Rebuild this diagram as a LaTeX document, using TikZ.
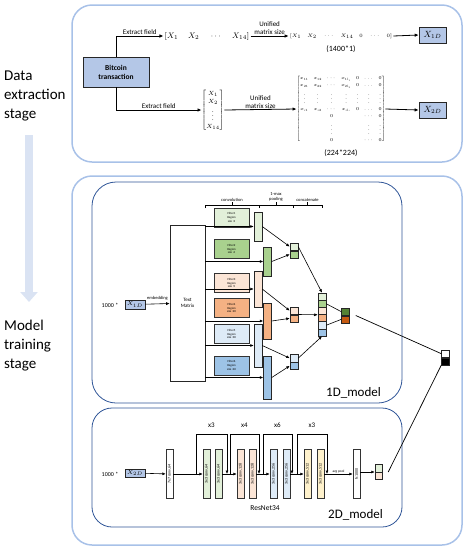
\RequirePackage{fix-cm}
\documentclass[tikz,border=0pt]{standalone}
\usepackage{amsmath}
\usepackage{fontspec}
\setmainfont{Carlito}
\usepackage{tikz}
\usetikzlibrary{
        arrows.meta,
        shapes,
        positioning
    }
\definecolor{stageblue}{RGB}{168,193,232}
\definecolor{modelblue}{RGB}{47,85,151}
\definecolor{boxblue}{RGB}{180,199,231}
\definecolor{arrowblue}{RGB}{218,227,243}
\definecolor{lgreen}{RGB}{226,240,217}
\definecolor{mgreen}{RGB}{169,209,142}
\definecolor{dgreen}{RGB}{84,130,53}
\definecolor{lorange}{RGB}{251,229,214}
\definecolor{morange}{RGB}{244,177,131}
\definecolor{dorange}{RGB}{197,90,17}
\definecolor{lblue}{RGB}{222,235,247}
\definecolor{mblue}{RGB}{157,195,230}
\definecolor{lyellow}{RGB}{255,242,204}

\begin{document}
\begin{tikzpicture}
[x=1pt, y=-1pt,
stagebox/.style={draw=stageblue, line width=1.5pt, rounded corners=20pt},
modelbox/.style={draw=modelblue, line width=0.8pt, rounded corners=24pt},
databox/.style={draw=black!85, fill=boxblue, line width=0.6pt, inner sep=0pt},
filterbox/.style={draw=black!80, line width=0.5pt, minimum width=35pt, minimum height=19pt, inner sep=0pt, align=center, font=\fontsize{3}{3.8}\selectfont},
featbar/.style={draw=black!85, line width=0.5pt, minimum width=8pt, inner sep=0pt},
cellbox/.style={draw=black!85, line width=0.5pt, minimum width=8pt, minimum height=7.2pt, inner sep=0pt},
convbar/.style={draw=black!80, line width=0.4pt, minimum width=7pt, minimum height=49pt, inner sep=0pt, font=\fontsize{4}{4.5}\selectfont},
arrow/.style={line width=0.8pt, -{Latex[length=4pt,width=3.5pt]}},
thinarrow/.style={line width=0.6pt, -{Latex[length=3.5pt,width=3pt]}},
lbl/.style={font=\fontsize{7}{8}\selectfont, inner sep=1pt},
stagetext/.style={anchor=west, align=left, inner sep=0pt, font=\fontsize{15}{19}\selectfont},
]
    \useasboundingbox (0,0) rectangle (468,550);
    % stages
    \draw[stagebox] (72,5) rectangle (462,162);
    \draw[stagebox] (72,176) rectangle (462,545);
    \draw[modelbox] (92,182) rectangle (402,403);
    \draw[modelbox, rounded corners=20pt] (92,408) rectangle (402,527);
    \node[stagetext] (stagedata) at (4,96) {Data\\extraction\\stage};
    \node[stagetext] (stagemodel) at (4,346) {Model\\training\\stage};
    \coordinate (flowtop) at (29,135);
    \coordinate (flowbot) at (29,302);
    \draw[line width=8pt, draw=arrowblue, -{Triangle[length=10pt,width=17pt]}] (flowtop) -- (flowbot);

    % data extraction
    \node[databox, minimum width=66pt, minimum height=30pt, align=center, font=\bfseries\fontsize{7.5}{9}\selectfont] (btc) at (116,72) {Bitcoin\\transaction};
    \node[inner sep=1pt, font=\fontsize{8}{9}\selectfont] (row1) at (207,36) {$[X_1\hspace{10pt}X_2\hspace{10pt}\cdots\hspace{10pt}X_{14}]$};
    \node[inner sep=1pt, font=\fontsize{5}{6}\selectfont] (row1u) at (341,36) {$[X_1\hspace{6pt}X_2\hspace{6pt}\cdots\hspace{6pt}X_{14}\hspace{6pt}0\hspace{6pt}\cdots\hspace{6pt}0]$};
    \node[font=\fontsize{8}{9}\selectfont, below=2pt of row1u] (size1) {(1400*1)};
    \node[databox, minimum width=27pt, minimum height=16pt, font=\fontsize{9}{10}\selectfont] (x1d) at (432.5,35) {$X_{1D}$};
    \draw[arrow] (btc.north) |- node[pos=0.75, above, lbl]{Extract field} (row1.west);
    \draw[arrow] (row1.east) -- node[above, lbl, align=center]{Unified\\matrix size} (row1u.west);
    \draw[arrow] (row1u.east) -- (x1d.west);

    \node[inner sep=0pt, font=\fontsize{6}{8}\selectfont] (col2) at (213,110) {$\begin{bmatrix}X_1\\X_2\\\vdots\\X_{14}\end{bmatrix}$};
    \node[inner sep=0pt, font=\fontsize{4.5}{7}\selectfont] (mat2) at (341,109) {$\setlength\arraycolsep{2.5pt}\begin{bmatrix}
        x_{11} & x_{12} & \cdots & x_{1l_1} & 0 & \dots & 0\\
        x_{21} & x_{22} & \cdots & x_{2l_2} & 0 & \dots & 0\\
        \vdots & \vdots & \vdots & \vdots & \vdots & \vdots & \vdots\\
        x_{i1} & x_{i2} & \cdots & x_{il_i} & 0 & \dots & 0\\
        & & 0 & & & \cdots & 0\\
        & & \vdots & & & \vdots & \vdots\\
        & & 0 & & & \cdots & 0
    \end{bmatrix}$};
    \node[font=\fontsize{8}{9}\selectfont, below=3pt of mat2] (size2) {(224*224)};
    \node[databox, minimum width=27pt, minimum height=16pt, font=\fontsize{9}{10}\selectfont] (x2d) at (432.5,110) {$X_{2D}$};
    \draw[arrow] (btc.south) |- node[pos=0.75, above, lbl]{Extract field} (col2.west);
    \draw[arrow] (col2.east) -- node[above, lbl, align=center]{Unified\\matrix size} (mat2.west);
    \draw[arrow] (mat2.east) -- (x2d.west);

    % 1D model
    \node[font=\fontsize{6}{7}\selectfont] (n1d) at (110,305) {1000 *};
    \node[databox, minimum width=20pt, minimum height=9pt, font=\fontsize{6}{7}\selectfont] (in1d) at (135,304.5) {$X_{1D}$};
    \node[draw=black!85, line width=0.6pt, minimum width=35pt, minimum height=156pt, align=center, font=\fontsize{5}{6}\selectfont] (txt) at (187.5,303) {Text\\Matrix};
    \draw[thinarrow] (in1d) -- node[above, font=\fontsize{4.5}{5}\selectfont]{embedding} (txt);
    \foreach \name/\y/\col/\size [count=\i] in {f1/217.5/lgreen/3, f2/249/mgreen/4, f3/283/lorange/5, f4/308/morange/20, f5/334/lblue/30, f6/365.5/mblue/40}
        \node[filterbox, fill=\col] (\name) at (231.5,\y) {Filter\i\\Region\\size :\size};
    \foreach \name/\x/\y/\h/\col in {c1/258/226.5/29pt/lgreen, c2/267.5/261.5/29pt/mgreen, c3/258/289/36pt/lorange, c4/267.5/321/36pt/morange, c5/258/345.5/43pt/lblue, c6/267.5/377.5/43pt/mblue}
        \node[featbar, minimum height=\h, fill=\col] (\name) at (\x,\y) {};
    \foreach \c in {c1,c2,c3,c4,c5,c6}
        \draw[thinarrow] (txt.east |- \c.west) -- (\c.west);
    \foreach \name/\y/\ca/\cb in {p1/250.5/lgreen/mgreen, p2/314.5/lorange/morange, p3/362/lblue/mblue} {
        \node[cellbox, fill=\ca, anchor=south] (\name a) at (294,\y) {};
        \node[cellbox, fill=\cb, anchor=north] (\name b) at (294,\y) {};
    }
    \draw[thinarrow] (c1.east) -- (p1a.west);
    \draw[thinarrow] (c2.east) -- (p1b.west);
    \draw[thinarrow] (c3.east) -- (p2a.west);
    \draw[thinarrow] (c4.east) -- (p2b.west);
    \draw[thinarrow] (c5.east) -- (p3a.west);
    \draw[thinarrow] (c6.east) -- (p3b.west);
    \foreach \col [count=\i] in {lgreen,mgreen,lorange,morange,lblue,mblue}
        \node[cellbox, fill=\col] (k\i) at (322,{289.4+7.17*\i}) {};
    \draw[thinarrow] (p1a.east) -- (k1.north);
    \draw[thinarrow] (p2a.south east) -- (k3.south west);
    \draw[thinarrow] (p3a.east) -- (k6.south);
    \node[cellbox, fill=dgreen, anchor=south] (o1a) at (345.5,315.5) {};
    \node[cellbox, fill=dorange, anchor=north] (o1b) at (345.5,315.5) {};
    \draw[line width=0.6pt] (k2.east) -- (o1a.west);
    \draw[line width=0.6pt] (k5.east) -- (o1b.west);
    \foreach \a/\b/\txt in {205/259/convolution, 259/293/{1-max\\pooling}, 293/322/concatenate} {
        \draw[line width=0.4pt] (\a,208) -- (\a,205) -- (\b,205) -- (\b,208);
        \draw[line width=0.4pt] ({(\a+\b)/2},205) -- ({(\a+\b)/2},202) node[above, inner sep=0.5pt, align=center, font=\fontsize{4.5}{4.8}\selectfont]{\txt};
    }
    \node[anchor=south east, inner sep=0pt, font=\fontsize{13}{14}\selectfont] (lab1d) at (381,398) {1D\_model};

    % final output
    \node[cellbox, fill=white, anchor=south] (fa) at (445.5,357.5) {};
    \node[cellbox, fill=black, anchor=north] (fb) at (445.5,357.5) {};
    \draw[line width=0.7pt] ([xshift=6pt]o1a.south east) -- (fa.west);

    % 2D model
    \node[font=\fontsize{6}{7}\selectfont] (n2d) at (110,474) {1000 *};
    \node[databox, minimum width=20pt, minimum height=8pt, font=\fontsize{6}{7}\selectfont] (in2d) at (135,473) {$X_{2D}$};
    \node[convbar, fill=white] (b0) at (169.5,474) {\rotatebox{90}{7x7 conv,64}};
    \foreach \name/\x/\col/\ch in {g1a/206.5/lgreen/64, g1b/218.5/lgreen/64, g2a/240.5/lorange/128, g2b/252.5/lorange/128, g3a/273.5/lblue/256, g3b/286.5/lblue/256, g4a/307.5/lyellow/512, g4b/320.5/lyellow/512}
        \node[convbar, fill=\col] (\name) at (\x,474) {\rotatebox{90}{3x3 conv,\ch}};
    \node[convbar, fill=white] (fc) at (356.5,474) {\rotatebox{90}{fc 1000}};
    \draw[thinarrow] (in2d) -- (b0);
    \draw[thinarrow] (b0) -- (g1a);
    \draw[thinarrow] (g1b) -- (g2a);
    \draw[thinarrow] (g2b) -- (g3a);
    \draw[thinarrow] (g3b) -- (g4a);
    \draw[thinarrow] (g4b) -- node[above, inner sep=1pt, font=\fontsize{3.5}{4}\selectfont]{avg pool} (fc);
    \foreach \s/\e/\rep [count=\i] in {196/227/3, 230/259/4, 263/292/6, 297/327/3} {
        \coordinate (ls\i) at (\s,474);
        \coordinate (le\i) at (\e,474);
        \draw[thinarrow] (ls\i) -- ++(0,-40) -| node[pos=0.25, above=3pt, font=\fontsize{7}{8}\selectfont]{x\rep} (le\i);
    }
    \node[cellbox, minimum width=7pt, fill=lgreen, anchor=south] (r2a) at (378.5,472) {};
    \node[cellbox, minimum width=7pt, fill=lorange, anchor=north] (r2b) at (378.5,472) {};
    \draw[thinarrow] (fc.east |- r2a.south) -- (r2a.south west);
    \draw[line width=0.7pt] ([xshift=6pt]r2b.north east) -- (fb.south west);
    \node[font=\fontsize{7.5}{8}\selectfont] (resnet) at (265,508) {ResNet34};
    \node[anchor=south east, inner sep=0pt, font=\fontsize{13}{14}\selectfont] (lab2d) at (383,520) {2D\_model};
\end{tikzpicture}
\end{document}
